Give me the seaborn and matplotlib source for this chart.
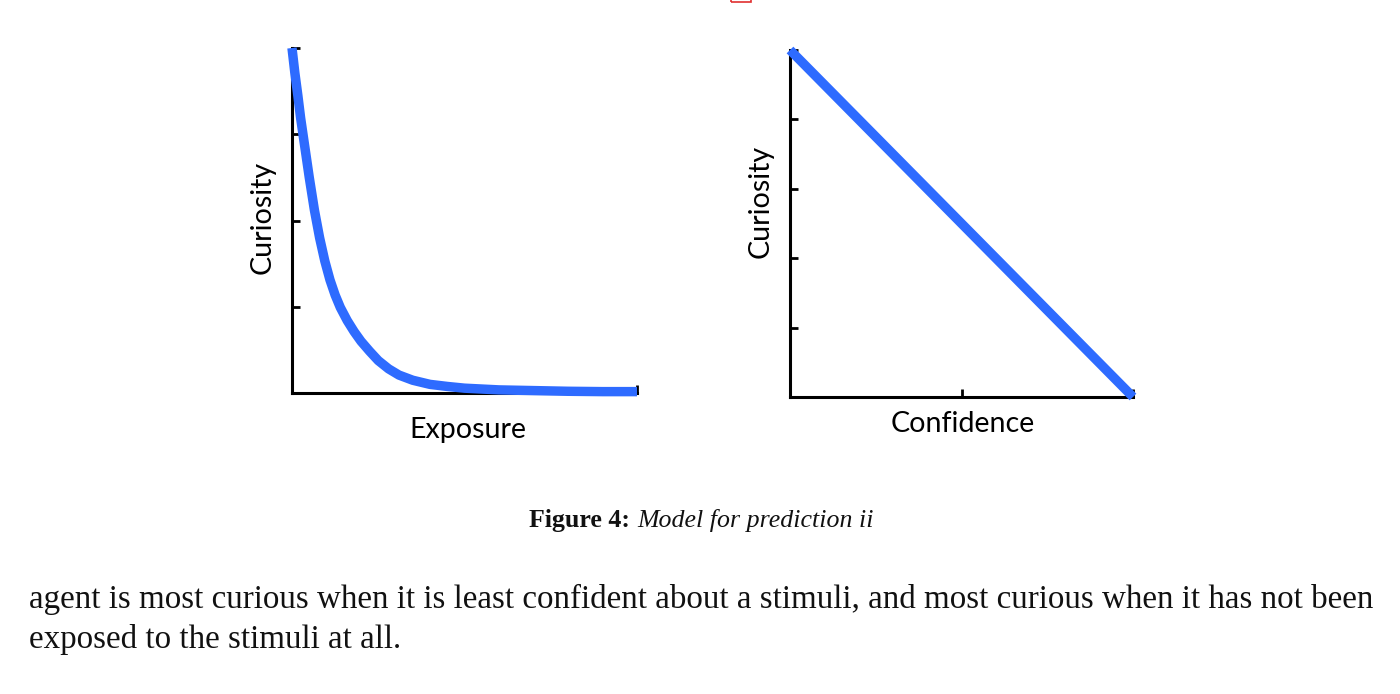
import matplotlib
matplotlib.use("Agg")
import matplotlib.pyplot as plt
from matplotlib.patches import Rectangle
import seaborn as sns

# ---- data ----
exposure = [0, 0.008, 0.017, 0.025, 0.034, 0.05, 0.065, 0.08, 0.095, 0.11, 0.125, 0.14,
            0.16, 0.18, 0.20, 0.225, 0.25, 0.28, 0.31, 0.35, 0.40, 0.45, 0.50, 0.60,
            0.70, 0.80, 0.90, 1.0]
curiosity_exposure = [1.0, 0.93, 0.862, 0.797, 0.735, 0.625, 0.53, 0.45, 0.383, 0.328,
                      0.284, 0.248, 0.21, 0.178, 0.15, 0.121, 0.094, 0.070, 0.052, 0.037,
                      0.025, 0.019, 0.014, 0.009, 0.007, 0.005, 0.004, 0.004]
confidence = [0.0, 1.0]
curiosity_confidence = [1.0, 0.0]
left_yticks = [0, 0.25, 0.5, 0.75, 1.0]
right_yticks = [0, 0.2, 0.4, 0.6, 0.8, 1.0]
xticks = [0.5, 1.0]
ylabel = "Curiosity"
xlabel_left = "Exposure"
xlabel_right = "Confidence"
caption_bold = "Figure 4:"
caption_italic = "Model for prediction ii"
body_lines = [
    "agent is most curious when it is least confident about a stimuli, and most curious when it has not been",
    "exposed to the stimuli at all.",
]

W, H = 1400, 694
BLUE = "#2E6BFF"

sns.set_style("ticks")
plt.rcParams["font.family"] = ["Lato", "DejaVu Sans"]

fig = plt.figure(figsize=(W / 100, H / 100), dpi=100)
fig.patch.set_facecolor("white")


def px_axes(x0, y_bottom, w, h):
    return fig.add_axes([x0 / W, 1 - y_bottom / H, w / W, h / H])


ax1 = px_axes(292, 393, 345, 345)
ax2 = px_axes(790, 397, 343, 347)

sns.lineplot(x=exposure, y=curiosity_exposure, ax=ax1, color=BLUE, lw=6.8,
             solid_capstyle="butt", solid_joinstyle="round", clip_on=False, zorder=3)
sns.lineplot(x=confidence, y=curiosity_confidence, ax=ax2, color=BLUE, lw=6.8,
             solid_capstyle="butt", clip_on=False, zorder=3)

for ax, yt in ((ax1, left_yticks), (ax2, right_yticks)):
    ax.set_xlim(0, 1)
    ax.set_ylim(0, 1)
    ax.set_xticks(xticks)
    ax.set_yticks(yt)
    ax.tick_params(direction="in", length=6, width=2, color="black",
                   labelleft=False, labelbottom=False)
    for s in ("top", "right"):
        ax.spines[s].set_visible(False)
    for s in ("left", "bottom"):
        ax.spines[s].set_linewidth(2.2)
        ax.spines[s].set_color("black")
    ax.set_facecolor("white")

lab_size = 17
ax1.set_ylabel(ylabel, fontsize=lab_size, va="center", color="black")
ax1.yaxis.set_label_coords((263 - 292) / 345, (393 - 217) / 345)
ax1.set_xlabel(xlabel_left, fontsize=lab_size, va="center", color="black")
ax1.xaxis.set_label_coords((468 - 292) / 345, (393 - 430) / 345)
ax2.set_ylabel(ylabel, fontsize=lab_size, va="center", color="black")
ax2.yaxis.set_label_coords((761 - 790) / 343, (397 - 201) / 347)
ax2.set_xlabel(xlabel_right, fontsize=lab_size, va="center", color="black")
ax2.xaxis.set_label_coords((963 - 790) / 343, (397 - 424) / 347)

fig.canvas.draw()
r = fig.canvas.get_renderer()

# fit label size to the reference width of "Confidence"
w_conf = ax2.xaxis.label.get_window_extent(r).width
lab_size = lab_size * 144 / w_conf
for t in (ax1.xaxis.label, ax1.yaxis.label, ax2.xaxis.label, ax2.yaxis.label):
    t.set_fontsize(lab_size)

# caption
serif = ["Liberation Serif", "DejaVu Serif"]
cb = fig.text(529 / W, 1 - 527 / H, caption_bold, fontsize=16, fontweight="bold",
              family=serif, va="baseline", ha="left", color="#111111")
ci = fig.text(642 / W, 1 - 527 / H, caption_italic, fontsize=16, fontstyle="italic",
              family=serif, va="baseline", ha="left", color="#111111")
fig.canvas.draw()
wb = cb.get_window_extent(r).width
wi = ci.get_window_extent(r).width
gap = 7
scale = (873 - 529 - gap) / (wb + wi)
cb.set_fontsize(16 * scale)
ci.set_fontsize(16 * scale)
fig.canvas.draw()
wb = cb.get_window_extent(r).width
ci.set_x((529 + wb + gap) / W)

# body text
b1 = fig.text(29 / W, 1 - 608 / H, body_lines[0], fontsize=20, family=serif,
              va="baseline", ha="left", color="#111111")
fig.canvas.draw()
w1 = b1.get_window_extent(r).width
bsize = 20 * (1375 - 29) / w1
b1.set_fontsize(bsize)
fig.text(29 / W, 1 - 648 / H, body_lines[1], fontsize=bsize, family=serif,
         va="baseline", ha="left", color="#111111")

# small red link box at top edge
fig.patches.append(Rectangle((731 / W, 1 - 2 / H), 20 / W, 10 / H,
                             transform=fig.transFigure, fill=False,
                             edgecolor="#E03030", lw=1.2, clip_on=False))

fig.savefig("out.png", dpi=100, facecolor="white")
